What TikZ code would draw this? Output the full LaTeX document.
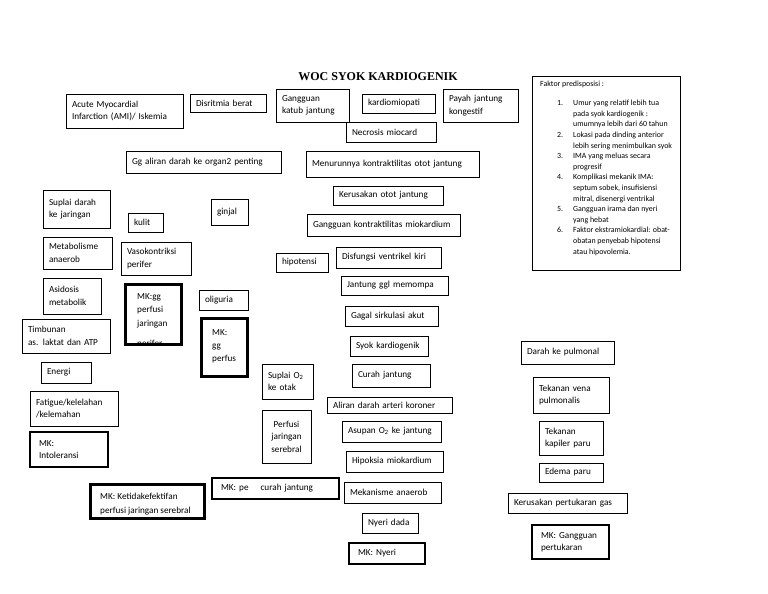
\documentclass[tikz,border=0pt]{standalone}
\usepackage{fontspec}
\setmainfont{Carlito}
\newfontfamily\titlefont{Liberation Serif}
\newcommand{\fs}{\fontsize{9.2}{12.5}\selectfont}
\newcommand{\fsk}{\fontsize{7.9}{10.6}\selectfont}
\tikzset{
  box/.style={draw, line width=0.9pt, inner xsep=6pt, inner ysep=0pt, align=left, font=\fs},
  mk/.style={box, line width=2.8pt, inner xsep=9pt},
  cliptext/.style={anchor=north west, inner sep=0pt, align=left, font=\fs},
}
% #1 style, #2 x1, #3 y1, #4 x2, #5 y2, #6 text, #7 name
\newcommand{\wocbox}[7][box]{\node[#1, minimum width={#4-#2}, minimum height={#5-#3}, text width={#4-#2-12}] (#7) at ({(#2+#4)/2},{(#3+#5)/2}) {#6};}
\newcommand{\wocmk}[7][mk]{\node[#1, minimum width={#4-#2}, minimum height={#5-#3}, text width={#4-#2-18}] (#7) at ({(#2+#4)/2},{(#3+#5)/2}) {#6};}
\begin{document}
\begin{tikzpicture}[x=1pt, y=-1pt]
\fill[white] (0,0) rectangle (768,594);
\useasboundingbox (0,0) rectangle (768,594);

\node[font=\titlefont\bfseries\fontsize{12}{14}\selectfont, inner sep=0pt] (title) at (378,77) {WOC SYOK KARDIOGENIK};

% top row
\wocbox{66}{94}{183}{128}{Acute Myocardial\\Infarction (AMI)/ Iskemia}{ami}
\wocbox{190}{94}{266}{112}{Disritmia berat}{disritmia}
\wocbox{276}{89}{349}{122}{Gangguan\\katub jantung}{katub}
\wocbox{362}{94}{435}{113}{kardiomiopati}{kardio}
\wocbox{443}{89}{518}{122}{Payah jantung\\kongestif}{payah}
\wocbox{346}{122}{436}{142}{Necrosis miocard}{necrosis}

% central column
\wocbox{126}{151}{281}{173}{Gg aliran darah ke organ2 penting}{ggaliran}
\wocbox{306}{151}{479}{177}{Menurunnya kontraktilitas otot jantung}{menurun}
\wocbox{333}{186}{443}{205}{Kerusakan otot jantung}{kerusakan}
\wocbox{307}{214}{460}{236}{Gangguan kontraktilitas miokardium}{gangkon}
\wocbox{276}{253}{328}{272}{hipotensi}{hipotensi}
\wocbox{336}{247}{441}{268}{Disfungsi ventrikel kiri}{disfungsi}
\wocbox{341}{276}{448}{295}{Jantung ggl memompa}{memompa}
\wocbox{345}{306}{438}{326}{Gagal sirkulasi akut}{gagal}
\wocbox{350}{336}{428}{356}{Syok kardiogenik}{syok}
\wocbox{262}{364}{313}{399}{Suplai O\textsubscript{2}\\ke otak}{suplaio}
\wocbox{352}{364}{430}{387}{Curah jantung}{curah}
\wocbox{327}{397}{452}{413}{Aliran darah arteri koroner}{aliran}
\wocbox[box, align=center]{262}{410}{311}{463}{Perfusi\\jaringan\\serebral}{perfusi}
\wocbox{342}{421}{441}{442}{Asupan O\textsubscript{2} ke jantung}{asupan}
\wocbox{346}{451}{443}{472}{Hipoksia miokardium}{hipoksia}
\wocmk{212}{478}{339}{499}{MK: pe\hspace{12pt}curah jantung}{mkcurah}
\wocbox{344}{482}{441}{503}{Mekanisme anaerob}{mekanisme}
\wocbox{362}{513}{418}{533}{Nyeri dada}{nyeri}
\wocmk{349}{543}{425}{564}{MK: Nyeri}{mknyeri}

% left column
\wocbox{43}{190}{110}{228}{Suplai darah\\ke jaringan}{suplai}
\wocbox{128}{213}{163}{232}{kulit}{kulit}
\wocbox{211}{199}{248}{225}{ginjal}{ginjal}
\wocbox{43}{237}{112}{269}{Metabolisme\\anaerob}{metab}
\wocbox{121}{242}{191}{275}{Vasokontriksi\\perifer}{vaso}
\wocbox{43}{278}{101}{314}{Asidosis\\metabolik}{asidosis}
\wocbox{199}{290}{248}{310}{oliguria}{oliguria}
\wocbox{22}{319}{110}{353}{Timbunan\\as. laktat dan ATP}{timbunan}
\wocbox{41}{362}{91}{383}{Energi}{energi}
\wocbox{30}{391}{118}{426}{Fatigue/kelelahan\\/kelemahan}{fatigue}
\wocmk{30}{432}{108}{467}{MK:\\Intoleransi}{mkintol}

% clipped MK boxes
\node[minimum width=55, minimum height=59, inner sep=0pt] (mkperifer) at (153.5,314.5) {};
\begin{scope}
  \clip (mkperifer.south west) rectangle (mkperifer.north east);
  \node[cliptext, font=\fontsize{9.2}{13.5}\selectfont] (mkperifertext) at (137,289.5) {\strut MK:gg\\perfusi\\jaringan\\[7pt]perifer};
\end{scope}
\draw[line width=2.8pt] (mkperifer.south west) rectangle (mkperifer.north east);

\node[minimum width=45, minimum height=57, inner sep=0pt] (mkperfus) at (224.5,347.5) {};
\begin{scope}
  \clip (mkperfus.south west) rectangle (mkperfus.north east);
  \node[cliptext, font=\fontsize{9.2}{13}\selectfont] (mkperfustext) at (212,325.9) {\strut MK:\\gg\\perfus\\[9pt]jaringan};
\end{scope}
\draw[line width=2.8pt] (mkperfus.south west) rectangle (mkperfus.north east);

\node[minimum width=113, minimum height=33, inner sep=0pt] (mkserebral) at (147.5,501.5) {};
\begin{scope}
  \clip (mkserebral.south west) rectangle (mkserebral.north east);
  \node[cliptext, font=\fontsize{9.2}{14.5}\selectfont] (mkserebraltext) at (100,488.8) {\strut MK: Ketidakefektifan\\perfusi jaringan serebral};
\end{scope}
\draw[line width=2.8pt] (mkserebral.south west) rectangle (mkserebral.north east);

% right column
\wocbox{521}{341}{614}{364}{Darah ke pulmonal}{darah}
\wocbox{533}{377}{609}{413}{Tekanan vena\\pulmonalis}{vena}
\wocbox{539}{421}{603}{455}{Tekanan\\kapiler paru}{kapiler}
\wocbox{539}{463}{603}{482}{Edema paru}{edema}
\wocbox{508}{493}{627}{513}{Kerusakan pertukaran gas}{kerusakangas}
\wocmk{532}{525}{609}{559}{MK: Gangguan\\pertukaran}{mkgas}

% predisposing factors
\node[draw, line width=0.9pt, minimum width=148, minimum height=194, inner sep=0pt] (faktor) at (606,173) {};
\node[anchor=base west, inner sep=0pt, font=\fsk] (fakhead) at (540,86.5) {Faktor predisposisi :};
\node[anchor=north west, inner sep=0pt, font=\fsk] (faklist) at (557,98) {%
\begin{tabular}{@{}p{16pt}@{}p{104pt}@{}}
1. & Umur yang relatif lebih tua\newline pada syok kardiogenik :\newline umumnya lebih dari 60 tahun\\
2. & Lokasi pada dinding anterior\newline lebih sering menimbulkan syok\\
3. & IMA yang meluas secara\newline progresif\\
4. & Komplikasi mekanik IMA:\newline septum sobek, insufisiensi\newline mitral, disenergi ventrikal\\
5. & Gangguan irama dan nyeri\newline yang hebat\\
6. & Faktor ekstramiokardial: obat-\newline obatan penyebab hipotensi\newline atau hipovolemia.
\end{tabular}};
\end{tikzpicture}
\end{document}
